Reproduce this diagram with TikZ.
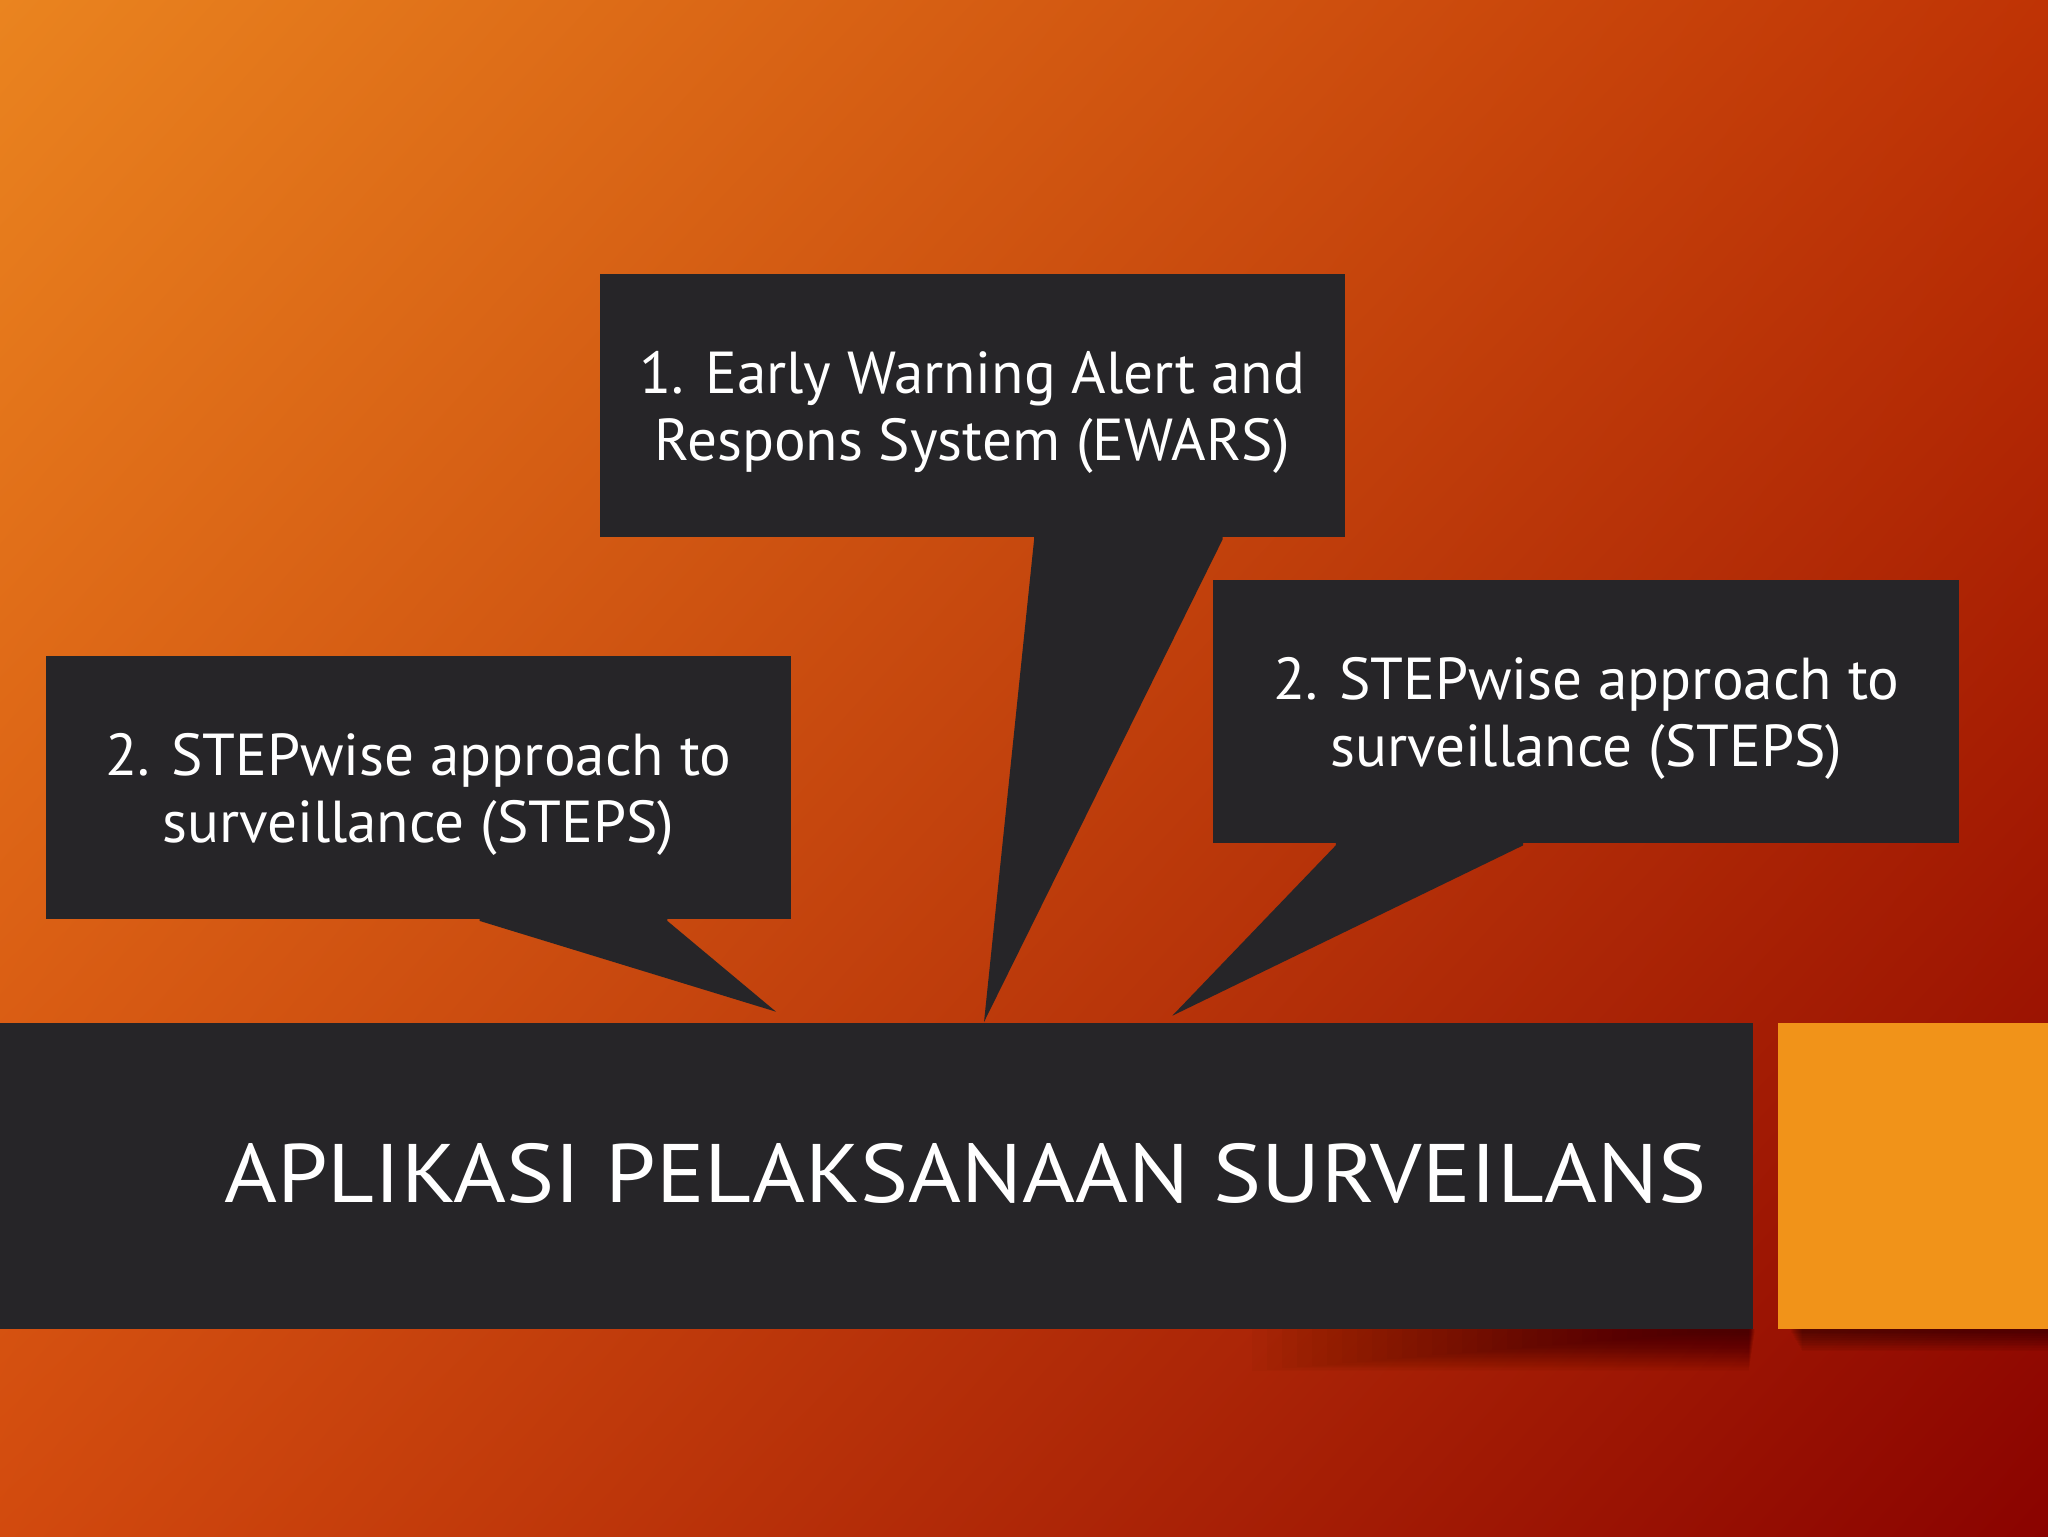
\documentclass[tikz,border=0pt]{standalone}
\usepackage{fontspec}
\setmainfont{PT Sans}
\usetikzlibrary{calc,fadings,shadings}
\definecolor{bgUL}{HTML}{EA841F}
\definecolor{bgUR}{HTML}{BF3305}
\definecolor{bgLL}{HTML}{D24A0E}
\definecolor{bgLR}{HTML}{8A0300}
\definecolor{boxgray}{HTML}{262528}
\definecolor{accent}{HTML}{F19319}
\tikzset{
  callout/.style={fill=boxgray, inner sep=0pt,
    minimum width=372.75pt, minimum height=131.5pt},
  callouttext/.style={text=white, inner sep=0pt, align=center, yshift=-3.5pt,
    font=\fontsize{29.6}{33.5}\selectfont},
  pointer/.style={fill=boxgray},
  bar/.style={fill=boxgray, inner sep=0pt, minimum width=876.4pt, minimum height=153.15pt},
  accentbox/.style={fill=accent, inner sep=0pt, minimum width=135pt, minimum height=153.15pt},
  titletext/.style={text=white, inner sep=0pt, font=\fontsize{41.5}{48}\selectfont}
}
\begin{document}
\begin{tikzpicture}[x=0.5pt,y=-0.5pt]
\useasboundingbox (0,0) rectangle (2048,1536);
\shade[upper left=bgUL, upper right=bgUR, lower left=bgLL, lower right=bgLR] (0,0) rectangle (2048,1536);
% soft shadows
\foreach \i in {1,...,30} {
  \fill[black, opacity=0.018] (1752-50-\i*15,1329) rectangle (1752+3-\i*0.2,1329+3+\i*1.3);
}
\foreach \i in {1,...,12} {
  \fill[black, opacity=0.045] (1790+\i*1,1329) rectangle (2048,1329+2+\i*1.7);
}
% bar and accent square
\node[bar] (bar) at (876.4,1175.85) {};
\node[accentbox] (sq) at (1913,1175.85) {};
\node[titletext, anchor=base east] (title) at (1707,1202.7) {\scalebox{1.092}[1]{APLIKASI PELAKSANAAN SURVEILANS}};
% callouts
\node[callout] (ewars) at (972.25,405.5) {};
\node[callout] (stepsL) at (418.25,787) {};
\node[callout] (stepsR) at (1586.2,711.5) {};
\node[callouttext] (ewarsT) at (ewars.center) {1. Early Warning Alert and\\Respons System (EWARS)};
\node[callouttext] (stepsLT) at (stepsL.center) {2. STEPwise approach to\\surveillance (STEPS)};
\node[callouttext] (stepsRT) at (stepsR.center) {2. STEPwise approach to\\surveillance (STEPS)};
% pointer tips
\coordinate (tipE) at (984,1022);
\coordinate (tipL) at (776,1011.7);
\coordinate (tipR) at (1172.3,1015.7);
\fill[pointer] ($(ewars.south west)+(435,2)$) -- (tipE) -- ($(ewars.south west)+(623.5,2)$) -- ($(ewars.south west)+(623.5,-2)$) -- ($(ewars.south west)+(435,-2)$) -- cycle;
\fill[pointer] ($(stepsL.south west)+(434.5,2)$) -- (tipL) -- ($(stepsL.south west)+(622.2,2)$) -- ($(stepsL.south west)+(622.2,-2)$) -- ($(stepsL.south west)+(434.5,-2)$) -- cycle;
\fill[pointer] ($(stepsR.south west)+(122.7,2)$) -- (tipR) -- ($(stepsR.south west)+(310,2)$) -- ($(stepsR.south west)+(310,-2)$) -- ($(stepsR.south west)+(122.7,-2)$) -- cycle;
\end{tikzpicture}
\end{document}
